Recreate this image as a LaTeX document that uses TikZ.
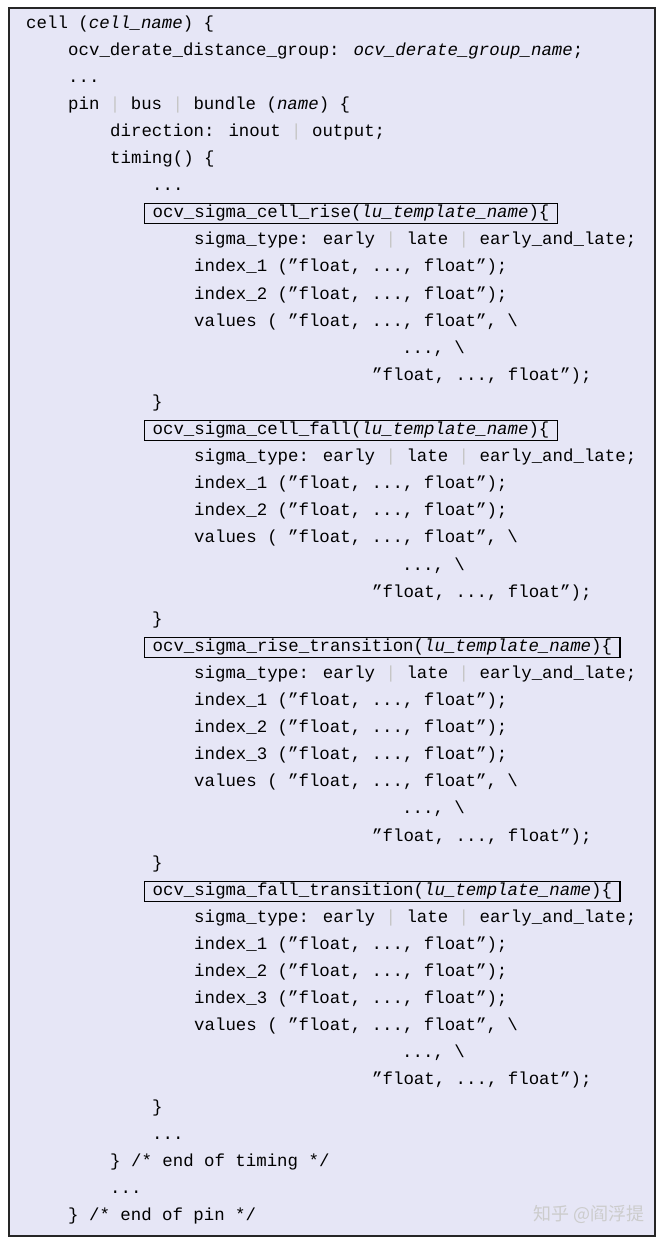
\documentclass[tikz,border=0pt]{standalone}
\usepackage{fontspec}
\newfontfamily\codefont{Liberation Mono}
\newfontfamily\cjkfont{Noto Sans CJK SC}
\definecolor{bgc}{HTML}{E6E6F6}
\newcommand{\sepbar}{{\color{gray!45}|}}
\newcommand{\itx}[1]{\textit{#1}}
\begin{document}
\begin{tikzpicture}[x=1pt,y=-1pt,
  code/.style={anchor=base west,inner sep=0pt,font=\codefont\fontsize{17.4}{17.4}\selectfont},
  hdr/.style={code,draw=black,line width=1.3pt,inner xsep=8pt,inner ysep=0pt,text height=14pt,text depth=6pt}]
\useasboundingbox (0,0) rectangle (663,1243);
\draw[fill=bgc,draw=black!85,line width=1.3pt] (9,8) rectangle (655,1236);
\def\ly#1{28+27.1*#1}
\def\fl{”float, ..., float”}
\node[code] (l0) at (26,{\ly{0}}) {cell (\itx{cell\_name}) \{};
\node[code] (l1) at (68,{\ly{1}}) {ocv\_derate\_distance\_group: \itx{ocv\_derate\_group\_name};};
\node[code] (l2) at (68,{\ly{2}}) {...};
\node[code] (l3) at (68,{\ly{3}}) {pin \sepbar{} bus \sepbar{} bundle (\itx{name}) \{};
\node[code] (l4) at (110,{\ly{4}}) {direction: inout \sepbar{} output;};
\node[code] (l5) at (110,{\ly{5}}) {timing() \{};
\node[code] (l6) at (152,{\ly{6}}) {...};
% block 1
\node[hdr] (h1) at (144,{\ly{7}}) {ocv\_sigma\_cell\_rise(\itx{lu\_template\_name})\{};
\node[code] (a1) at (194,{\ly{8}}) {sigma\_type: early \sepbar{} late \sepbar{} early\_and\_late;};
\node[code] (a2) at (194,{\ly{9}}) {index\_1 (\fl);};
\node[code] (a3) at (194,{\ly{10}}) {index\_2 (\fl);};
\node[code] (a4) at (194,{\ly{11}}) {values ( \fl, \textbackslash};
\node[code] (a5) at (402,{\ly{12}}) {..., \textbackslash};
\node[code] (a6) at (372,{\ly{13}}) {\fl);};
\node[code] (a7) at (152,{\ly{14}}) {\}};
% block 2
\node[hdr] (h2) at (144,{\ly{15}}) {ocv\_sigma\_cell\_fall(\itx{lu\_template\_name})\{};
\node[code] (b1) at (194,{\ly{16}}) {sigma\_type: early \sepbar{} late \sepbar{} early\_and\_late;};
\node[code] (b2) at (194,{\ly{17}}) {index\_1 (\fl);};
\node[code] (b3) at (194,{\ly{18}}) {index\_2 (\fl);};
\node[code] (b4) at (194,{\ly{19}}) {values ( \fl, \textbackslash};
\node[code] (b5) at (402,{\ly{20}}) {..., \textbackslash};
\node[code] (b6) at (372,{\ly{21}}) {\fl);};
\node[code] (b7) at (152,{\ly{22}}) {\}};
% block 3
\node[hdr] (h3) at (144,{\ly{23}}) {ocv\_sigma\_rise\_transition(\itx{lu\_template\_name})\{};
\node[code] (c1) at (194,{\ly{24}}) {sigma\_type: early \sepbar{} late \sepbar{} early\_and\_late;};
\node[code] (c2) at (194,{\ly{25}}) {index\_1 (\fl);};
\node[code] (c3) at (194,{\ly{26}}) {index\_2 (\fl);};
\node[code] (c3b) at (194,{\ly{27}}) {index\_3 (\fl);};
\node[code] (c4) at (194,{\ly{28}}) {values ( \fl, \textbackslash};
\node[code] (c5) at (402,{\ly{29}}) {..., \textbackslash};
\node[code] (c6) at (372,{\ly{30}}) {\fl);};
\node[code] (c7) at (152,{\ly{31}}) {\}};
% block 4
\node[hdr] (h4) at (144,{\ly{32}}) {ocv\_sigma\_fall\_transition(\itx{lu\_template\_name})\{};
\node[code] (d1) at (194,{\ly{33}}) {sigma\_type: early \sepbar{} late \sepbar{} early\_and\_late;};
\node[code] (d2) at (194,{\ly{34}}) {index\_1 (\fl);};
\node[code] (d3) at (194,{\ly{35}}) {index\_2 (\fl);};
\node[code] (d3b) at (194,{\ly{36}}) {index\_3 (\fl);};
\node[code] (d4) at (194,{\ly{37}}) {values ( \fl, \textbackslash};
\node[code] (d5) at (402,{\ly{38}}) {..., \textbackslash};
\node[code] (d6) at (372,{\ly{39}}) {\fl);};
\node[code] (d7) at (152,{\ly{40}}) {\}};
% tail
\node[code] (t1) at (152,{\ly{41}}) {...};
\node[code] (t2) at (110,{\ly{42}}) {\} /* end of timing */};
\node[code] (t3) at (110,{\ly{43}}) {...};
\node[code] (t4) at (68,{\ly{44}}) {\} /* end of pin */};
\node[anchor=base east,inner sep=0pt,text=gray!40,font=\cjkfont\fontsize{18}{18}\selectfont] (wm) at (645,{\ly{44}}) {知乎 @阎浮提};
\end{tikzpicture}
\end{document}
